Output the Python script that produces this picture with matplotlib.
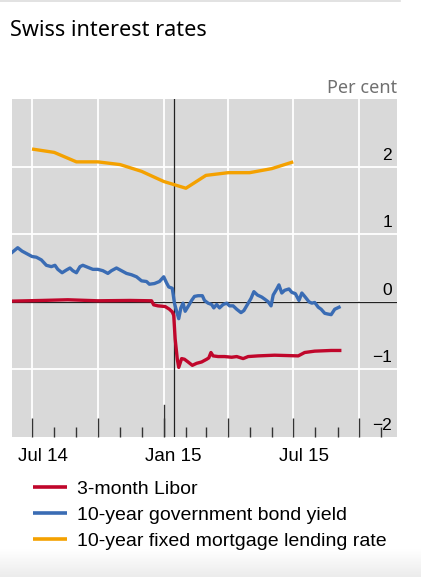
import matplotlib
matplotlib.use("Agg")
import matplotlib.pyplot as plt
import matplotlib.dates as mdates
import matplotlib.transforms as mtransforms
from matplotlib.lines import Line2D
from matplotlib.colors import LinearSegmentedColormap
import numpy as np
import pandas as pd

# ---------------- data ----------------
libor_dates = ["2014-06-03", "2014-07-15", "2014-08-20", "2014-10-01", "2014-11-15",
               "2014-12-15", "2014-12-18", "2014-12-24", "2015-01-03", "2015-01-09",
               "2015-01-13", "2015-01-15", "2015-01-17", "2015-01-20", "2015-01-22",
               "2015-01-26", "2015-01-30", "2015-02-04", "2015-02-10", "2015-02-16",
               "2015-02-23", "2015-03-02", "2015-03-05", "2015-03-08", "2015-03-11",
               "2015-03-18", "2015-03-27", "2015-04-06", "2015-04-13", "2015-04-22",
               "2015-04-29", "2015-05-13", "2015-06-05", "2015-07-08", "2015-07-17",
               "2015-07-31", "2015-08-23", "2015-09-04"]
libor_values = [0.01, 0.02, 0.03, 0.015, 0.02,
                0.015, -0.045, -0.06, -0.07, -0.11,
                -0.15, -0.20, -0.55, -0.85, -0.97,
                -0.84, -0.85, -0.89, -0.94, -0.91,
                -0.89, -0.85, -0.83, -0.75, -0.80,
                -0.81, -0.81, -0.82, -0.81, -0.84,
                -0.81, -0.80, -0.79, -0.80, -0.75,
                -0.73, -0.72, -0.72]

bond_dates = ["2014-06-03", "2014-06-11", "2014-06-17", "2014-06-24", "2014-07-01",
              "2014-07-07", "2014-07-14", "2014-07-21", "2014-07-28", "2014-08-02",
              "2014-08-06", "2014-08-12", "2014-08-18", "2014-08-23", "2014-08-27",
              "2014-09-01", "2014-09-06", "2014-09-10", "2014-09-17", "2014-09-24",
              "2014-10-01", "2014-10-08", "2014-10-15", "2014-10-20", "2014-10-27",
              "2014-11-03", "2014-11-10", "2014-11-17", "2014-11-24", "2014-12-01",
              "2014-12-08", "2014-12-12", "2014-12-19", "2014-12-26", "2015-01-01",
              "2015-01-05", "2015-01-08", "2015-01-13", "2015-01-16", "2015-01-19",
              "2015-01-22", "2015-01-25", "2015-01-28", "2015-01-31", "2015-02-04",
              "2015-02-09", "2015-02-13", "2015-02-18", "2015-02-24", "2015-02-27",
              "2015-03-04", "2015-03-09", "2015-03-12", "2015-03-16", "2015-03-20",
              "2015-03-25", "2015-03-30", "2015-04-03", "2015-04-08", "2015-04-13",
              "2015-04-19", "2015-04-23", "2015-04-28", "2015-05-03", "2015-05-07",
              "2015-05-12", "2015-05-18", "2015-05-22", "2015-05-27", "2015-05-31",
              "2015-06-03", "2015-06-08", "2015-06-11", "2015-06-15", "2015-06-19",
              "2015-06-25", "2015-06-29", "2015-07-04", "2015-07-09", "2015-07-13",
              "2015-07-17", "2015-07-23", "2015-07-27", "2015-07-31", "2015-08-05",
              "2015-08-09", "2015-08-14", "2015-08-18", "2015-08-23", "2015-08-28",
              "2015-09-03"]
bond_values = [0.73, 0.80, 0.75, 0.71, 0.67,
               0.66, 0.62, 0.54, 0.52, 0.54,
               0.48, 0.43, 0.47, 0.50, 0.46,
               0.43, 0.52, 0.54, 0.51, 0.48,
               0.48, 0.46, 0.42, 0.46, 0.50,
               0.46, 0.42, 0.40, 0.37, 0.31,
               0.30, 0.26, 0.27, 0.30, 0.37,
               0.28, 0.22, 0.20, -0.02, -0.14,
               -0.25, -0.09, -0.02, -0.14, -0.07,
               0.02, 0.08, 0.09, 0.09, 0.02,
               -0.02, -0.04, -0.09, -0.04, -0.09,
               -0.04, -0.02, -0.06, -0.06, -0.11,
               -0.16, -0.13, -0.04, 0.05, 0.15,
               0.10, 0.07, 0.04, 0.00, -0.06,
               0.10, 0.19, 0.25, 0.13, 0.17,
               0.19, 0.14, 0.12, 0.02, 0.13,
               0.08, 0.00, -0.02, -0.01, -0.08,
               -0.11, -0.17, -0.18, -0.19, -0.11,
               -0.08]

mortgage_dates = ["2014-07-01", "2014-08-01", "2014-09-01", "2014-10-01", "2014-11-01",
                  "2014-12-01", "2015-01-01", "2015-02-01", "2015-03-01", "2015-04-01",
                  "2015-05-01", "2015-06-01", "2015-07-01"]
mortgage_values = [2.26, 2.21, 2.07, 2.07, 2.03,
                   1.93, 1.78, 1.68, 1.87, 1.91,
                   1.91, 1.97, 2.07]

series_labels = ["3-month Libor", "10-year government bond yield",
                 "10-year fixed mortgage lending rate"]
x_labels = ["Jul 14", "Jan 15", "Jul 15"]
x_label_dates = ["2014-07-16", "2015-01-15", "2015-07-16"]
y_ticks = [-2, -1, 0, 1, 2]
event_date = "2015-01-15"

# ---------------- style ----------------
RED = "#C0062B"
BLUE = "#3A6CB4"
ORANGE = "#F4A100"
BG = "#D9D9D9"
LABEL_FONT = ["Liberation Sans", "DejaVu Sans"]
TITLE_FONT = ["Noto Sans", "DejaVu Sans"]

fig = plt.figure(figsize=(4.21, 5.77), dpi=100)
W, H = 421, 577

# subtle grey fade at the bottom of the figure
gax = fig.add_axes([0, 0, 1, 28 / H], zorder=-10)
gax.axis("off")
grad = np.linspace(0, 1, 50).reshape(-1, 1)
gax.imshow(grad, aspect="auto", extent=[0, 1, 0, 1], origin="upper",
           cmap=LinearSegmentedColormap.from_list("fade", ["#FFFFFF", "#ECECEC"]))

ax = fig.add_axes([12 / W, (H - 437) / H, (397 - 12) / W, (437 - 99) / H])
ax.set_facecolor(BG)
for s in ax.spines.values():
    s.set_visible(False)

ax.set_xlim(pd.Timestamp("2014-06-03"), pd.Timestamp("2015-11-23"))
ax.set_ylim(-2, 3)

# grid
ax.xaxis.set_major_locator(mdates.MonthLocator(bymonth=[1, 4, 7, 10]))
ax.xaxis.set_minor_locator(mdates.MonthLocator())
ax.set_yticks([-1, 0, 1, 2])
ax.grid(True, which="major", color="white", linewidth=1.3)
ax.set_axisbelow(True)
ax.tick_params(axis="x", which="major", direction="in", length=14, width=1.0,
               color="#333333", labelbottom=False)
ax.tick_params(axis="x", which="minor", direction="in", length=7, width=1.0,
               color="#333333", labelbottom=False)
ax.tick_params(axis="y", length=0, labelleft=False)

# zero line, event line, year tick
ax.axhline(0, color="#222222", linewidth=0.9, zorder=2)
ax.axvline(pd.Timestamp(event_date), color="#222222", linewidth=0.9, zorder=2)
ax.axvline(pd.Timestamp("2015-01-01"), ymin=0, ymax=32 / 338, color="#333333",
           linewidth=1.0, zorder=2)

# data lines
ax.plot(pd.to_datetime(mortgage_dates), mortgage_values, color=ORANGE, lw=2.4,
        solid_capstyle="butt", zorder=3)
ax.plot(pd.to_datetime(bond_dates), bond_values, color=BLUE, lw=2.4,
        solid_joinstyle="round", zorder=4)
ax.plot(pd.to_datetime(libor_dates), libor_values, color=RED, lw=2.4,
        solid_joinstyle="round", zorder=5)

# y labels inside the plot, right aligned, above grid lines
ylab_tr = ax.get_yaxis_transform() + mtransforms.ScaledTranslation(-5 / 100, 4 / 100,
                                                                     fig.dpi_scale_trans)
for v in y_ticks:
    ax.text(1.0, v, str(v).replace("-", "\u2212"), transform=ylab_tr, ha="right",
            va="bottom", fontsize=12.5, family=LABEL_FONT, color="black")

# x labels
xlab_tr = ax.get_xaxis_transform()
for lab, d in zip(x_labels, x_label_dates):
    ax.text(pd.Timestamp(d), -0.033, lab, transform=xlab_tr, ha="center", va="top",
            fontsize=13.5, family=LABEL_FONT, color="black")

# title and unit
fig.text(10 / W, 1 - 36 / H, "Swiss interest rates", ha="left", va="baseline",
         fontsize=15.6, family=TITLE_FONT, color="black")
fig.text(397 / W, 1 - 93 / H, "Per cent", ha="right", va="baseline",
         fontsize=13, family=TITLE_FONT, color="#707070")

# legend (manual, positioned in figure pixels)
legend_rows_y = [487, 513, 539]
for lab, col, yy in zip(series_labels, (RED, BLUE, ORANGE), legend_rows_y):
    fig.add_artist(Line2D([33 / W, 67 / W], [1 - yy / H, 1 - yy / H], color=col,
                          lw=2.6, solid_capstyle="butt"))
    fig.text(77 / W, 1 - yy / H, lab, ha="left", va="center_baseline", fontsize=14,
             family=LABEL_FONT, color="black")

# top thin line
fig.add_artist(Line2D([0, 400 / W], [1 - 1 / H, 1 - 1 / H], color="#DDDDDD", lw=1.2))

fig.savefig("out.png", dpi=100)
